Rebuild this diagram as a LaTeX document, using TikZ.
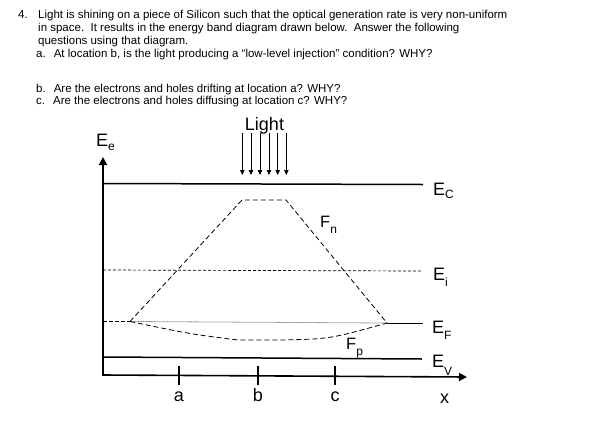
\documentclass[tikz,border=0pt]{standalone}
\usepackage{fontspec}
\setmainfont{Liberation Sans}
\usetikzlibrary{arrows.meta}
\newcommand\lsub[2][5pt]{\raisebox{-#1}{\fontsize{12}{12}\selectfont #2}}
\begin{document}
\begin{tikzpicture}[x=1pt,y=-1pt,
  qtext/.style={anchor=base west,inner sep=0pt,font=\fontsize{11.5}{13}\selectfont},
  lbl/.style={anchor=base west,inner sep=0pt,font=\fontsize{18}{18}\selectfont},
  band/.style={line width=1.5pt},
  axisline/.style={line width=1.6pt},
  quasi/.style={dash pattern=on 5pt off 3pt,line width=0.8pt},
  tickline/.style={line width=1.4pt},
  lightarrow/.style={line width=0.8pt,-{Triangle[length=5pt,width=4.5pt]}}]
\useasboundingbox[fill=white] (0,0) rectangle (598,424);
% question text
\node[qtext] (n4) at (18,18.3) {4.};
\node[qtext] (q1) at (38,18.3) {Light is shining on a piece of Silicon such that the optical generation rate is very non-uniform};
\node[qtext] (q2) at (38,31.5) {in space.\ \ It results in the energy band diagram drawn below.\ \ Answer the following};
\node[qtext] (q3) at (38,44.5) {questions using that diagram.};
\node[qtext] (qa) at (36,57.3) {a.\hspace{8pt}At location b, is the light producing a ``low-level injection'' condition? WHY?};
\node[qtext] (qb) at (36,92) {b.\hspace{8pt}Are the electrons and holes drifting at location a? WHY?};
\node[qtext] (qc) at (36,104.5) {c.\hspace{8pt}Are the electrons and holes diffusing at location c? WHY?};
% axes
\coordinate (O) at (103,375);
\coordinate (ytip) at (103,157);
\coordinate (xtip) at (467,377);
\draw[axisline,{Triangle[length=8pt,width=8pt]}-{Triangle[length=8pt,width=8pt]}] (ytip) -- (O) -- (xtip);
\node[lbl] (Ee) at (96,146) {E\lsub[4pt]{e}};
\node[lbl] (X) at (440,403) {x};
% bands
\coordinate (ec0) at (103,183.5); \coordinate (ec1) at (423,184.5);
\draw[band] (ec0) -- (ec1);
\node[lbl] (Ec) at (433,195) {E\lsub[3pt]{C}};
\coordinate (ei0) at (103,270); \coordinate (ei1) at (422,271);
\draw[line width=0.7pt,dash pattern=on 3pt off 2pt] (ei0) -- (ei1);
\node[lbl] (Ei) at (433,280) {E\lsub[6pt]{i}};
\coordinate (ef0) at (103,321.5); \coordinate (L) at (130,321.5);
\coordinate (R) at (387,323); \coordinate (ef1) at (423,323);
\draw[line width=0.7pt,dash pattern=on 4pt off 2pt] (ef0) -- (L);
\draw[gray,line width=0.8pt,dash pattern=on 1pt off 0.6pt] (L) -- (R);
\draw[line width=0.8pt] (R) -- (ef1);
\node[lbl] (EF) at (432,333) {E\lsub[6pt]{F}};
\coordinate (ev0) at (103,357); \coordinate (ev1) at (422,359);
\draw[band] (ev0) -- (ev1);
\node[lbl] (Ev) at (432,367) {E\lsub[8pt]{V}};
% quasi Fermi levels
\coordinate (fn1) at (242,200); \coordinate (fn2) at (286,200);
\draw[quasi] (L) -- (fn1) -- (fn2) -- (R);
\node[lbl,font=\fontsize{16.5}{16.5}\selectfont] (Fn) at (320,227) {F\lsub[6pt]{n}};
\coordinate (fp1) at (238,340); \coordinate (fp2) at (280,340);
\draw[quasi] (L) .. controls (190,334) .. (fp1) -- (fp2) .. controls (330,339) .. (R);
\node[lbl,font=\fontsize{16.5}{16.5}\selectfont] (Fp) at (346,349) {F\lsub[6pt]{p}};
% light
\node[inner sep=0pt,font=\fontsize{18}{18}\selectfont,anchor=base] (light) at (264.5,130) {Light};
\foreach \x in {242.3,251,260,269,277.7,286.3}{
  \coordinate (la) at (\x,133); \coordinate (lb) at (\x,175);
  \draw[lightarrow] (la) -- (lb);
}
% ticks
\foreach \x/\t in {179/a,258/b,335/c}{
  \coordinate (t0) at (\x,366); \coordinate (t1) at (\x,385);
  \draw[tickline] (t0) -- (t1);
  \node[lbl,anchor=base] (lab\t) at (\x,401) {\t};
}
\end{tikzpicture}
\end{document}
